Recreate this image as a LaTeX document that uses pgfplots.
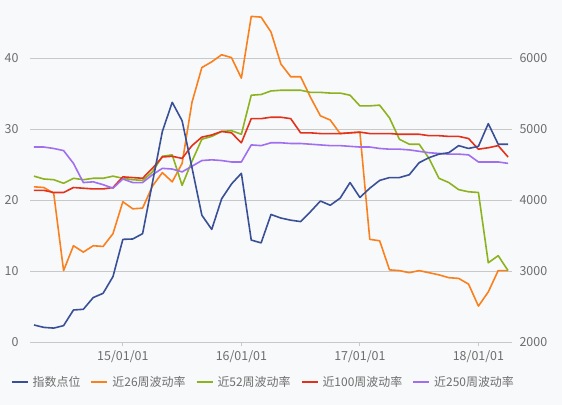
\documentclass[border=0pt]{standalone}
\usepackage{fontspec}
\setmainfont{Noto Sans CJK SC}
\usepackage{pgfplots}
\usepackage{pgfplotstable}
\pgfplotsset{compat=1.18}
\definecolor{bgc}{RGB}{248,249,251}
\definecolor{cidx}{RGB}{58,80,150}
\definecolor{c26}{RGB}{250,128,30}
\definecolor{c52}{RGB}{140,178,30}
\definecolor{c100}{RGB}{226,50,28}
\definecolor{c250}{RGB}{160,110,240}
\definecolor{gridc}{RGB}{200,200,200}
\definecolor{txtc}{RGB}{110,110,110}
\pgfplotstableread{
k idx v26 v52 v100 v250
0 2244 21.9 23.4 21.4 27.5
1 2210 21.8 23.0 21.4 27.5
2 2200 21.0 22.9 21.1 27.3
3 2235 10.1 22.4 21.1 27.0
4 2455 13.6 23.1 21.8 25.2
5 2465 12.7 22.9 21.7 22.5
6 2630 13.6 23.1 21.6 22.6
7 2690 13.5 23.1 21.6 22.2
8 2925 15.3 23.4 21.8 21.7
9 3450 19.8 23.1 23.3 23.0
10 3455 18.8 22.9 23.2 22.5
11 3530 18.9 22.8 23.1 22.5
12 4250 22.0 24.0 24.5 23.6
13 4970 23.9 26.2 26.1 24.5
14 5380 22.6 26.4 26.2 24.4
15 5120 25.2 22.1 25.9 24.0
16 4460 33.8 25.5 27.7 24.8
17 3790 38.7 28.6 28.9 25.6
18 3590 39.5 29.0 29.2 25.7
19 4020 40.5 29.7 29.7 25.6
20 4230 40.1 29.8 29.5 25.4
21 4380 37.2 29.3 28.1 25.4
22 3440 45.9 34.8 31.5 27.8
23 3400 45.8 34.9 31.5 27.7
24 3800 43.7 35.4 31.7 28.1
25 3750 39.2 35.5 31.7 28.1
26 3720 37.4 35.5 31.5 28.0
27 3700 37.4 35.5 29.5 28.0
28 3840 34.5 35.2 29.5 27.9
29 3990 31.9 35.2 29.4 27.8
30 3930 31.3 35.1 29.4 27.7
31 4030 29.4 35.1 29.4 27.7
32 4250 29.5 34.8 29.5 27.6
33 4040 29.6 33.3 29.6 27.5
34 4170 14.5 33.3 29.4 27.5
35 4280 14.3 33.4 29.4 27.3
36 4320 10.2 31.6 29.4 27.2
37 4320 10.1 28.6 29.3 27.2
38 4360 9.8 27.9 29.3 27.1
39 4530 10.1 27.9 29.3 26.9
40 4600 9.8 25.9 29.1 26.7
41 4650 9.5 23.1 29.1 26.6
42 4670 9.1 22.5 29.0 26.5
43 4770 9.0 21.5 29.0 26.5
44 4730 8.2 21.2 28.7 26.4
45 4760 5.1 21.1 27.2 25.4
46 5080 7.1 11.2 27.4 25.4
47 4790 10.1 12.2 27.7 25.4
48 4790 10.1 10.1 26.1 25.2
}\data
\pgfplotsset{
  base/.style={
    scale only axis, width=482bp, height=333.7bp,
    at={(30bp,62.7bp)}, anchor=south west,
    xmin=-0.4, xmax=48.4,
    tick label style={font=\fontsize{12.5}{14}\selectfont, text=txtc},
    /pgf/number format/assume math mode=true,
    /pgf/number format/1000 sep={},
    every axis plot/.append style={line width=1.6pt, line join=round},
  }
}
\begin{document}
\begin{tikzpicture}
\fill[bgc] (0,0) rectangle (562bp,405bp);
\path[use as bounding box] (0,0) rectangle (562bp,405bp);
\begin{axis}[base,
  ymin=0, ymax=47,
  ytick={0,10,20,30,40},
  ymajorgrids, grid style={gridc, line width=0.8pt},
  axis x line*=bottom, axis y line*=left,
  y axis line style={draw=none},
  x axis line style={gridc, line width=0.8pt},
  ytick style={draw=none},
  xtick={9,21,33,45},
  xticklabels={15/01/01,16/01/01,17/01/01,18/01/01},
  xtick style={gridc, line width=0.8pt},
  tick align=outside, major tick length=4bp,
  yticklabel style={xshift=-4bp},
  xticklabel style={yshift=-1bp},
  legend columns=5,
  legend style={at={(0.484,-0.12)}, anchor=center, draw=none, fill=none,
    font=\fontsize{12}{14}\selectfont, text=txtc,
    /tikz/every odd column/.append style={column sep=2bp},
    /tikz/every even column/.append style={column sep=8bp}},
  legend image code/.code={\draw[#1, line width=2pt] (0bp,0bp) -- (16bp,0bp);},
]
\addlegendimage{cidx}
\addlegendentry{指数点位}
\addplot[c26] table[x=k, y=v26] {\data};
\addlegendentry{近26周波动率}
\addplot[c52] table[x=k, y=v52] {\data};
\addlegendentry{近52周波动率}
\addplot[c100] table[x=k, y=v100] {\data};
\addlegendentry{近100周波动率}
\addplot[c250] table[x=k, y=v250] {\data};
\addlegendentry{近250周波动率}
\end{axis}
\begin{axis}[base,
  ymin=2000, ymax=6700,
  ytick={2000,3000,4000,5000,6000},
  axis y line*=right, axis x line=none,
  y axis line style={draw=none},
  ytick style={draw=none},
  yticklabel style={xshift=4bp},
]
\addplot[cidx] table[x=k, y=idx] {\data};
\end{axis}
\end{tikzpicture}
\end{document}
